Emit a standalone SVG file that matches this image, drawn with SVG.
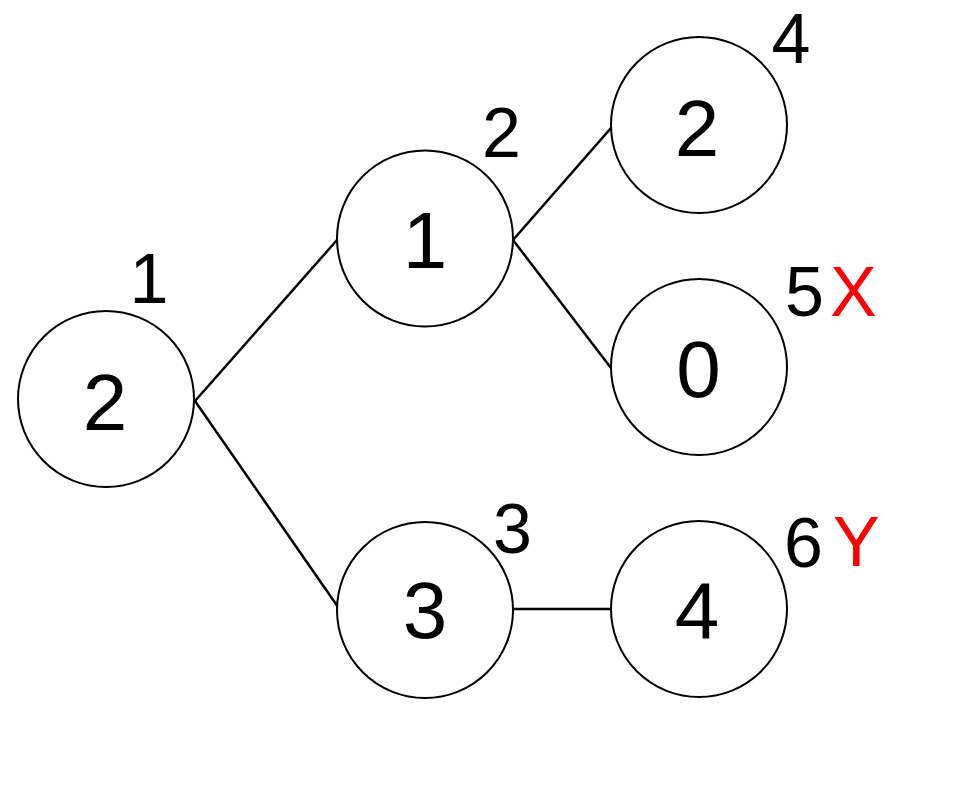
<svg xmlns="http://www.w3.org/2000/svg" width="961" height="801" viewBox="0 0 961 801">
  <style>
    .node { fill: #ffffff; stroke: #000000; stroke-width: 2; }
    .edge { stroke: #000000; stroke-width: 2.5; fill: none; }
    .val { font-family: "Liberation Sans", Arial, sans-serif; font-size: 80px; fill: #000000; text-anchor: middle; }
    .lbl { font-family: "Liberation Sans", Arial, sans-serif; font-size: 70px; fill: #000000; }
    .red { fill: #ff0000; }
  </style>
  <rect x="0" y="0" width="961" height="801" fill="#ffffff"/>
  <g id="connectors">
    <line class="edge" x1="195" y1="401" x2="337" y2="240"/>
    <line class="edge" x1="195" y1="401" x2="338" y2="607"/>
    <line class="edge" x1="513" y1="240" x2="611" y2="128"/>
    <line class="edge" x1="513" y1="240" x2="611" y2="368"/>
    <line class="edge" x1="513" y1="609" x2="611" y2="609"/>
  </g>
  <g id="node1">
    <circle class="node" cx="106" cy="399" r="88"/>
    <text class="val" x="105" y="430">2</text>
    <text class="lbl" x="129.5" y="303">1</text>
  </g>
  <g id="node2">
    <circle class="node" cx="425" cy="238.5" r="88"/>
    <text class="val" x="425" y="268">1</text>
    <text class="lbl" x="482" y="157">2</text>
  </g>
  <g id="node3">
    <circle class="node" cx="425" cy="610" r="88"/>
    <text class="val" x="425" y="638">3</text>
    <text class="lbl" x="493" y="553">3</text>
  </g>
  <g id="node4">
    <circle class="node" cx="699" cy="125" r="88"/>
    <text class="val" x="697" y="156">2</text>
    <text class="lbl" x="771.5" y="63">4</text>
  </g>
  <g id="node5">
    <circle class="node" cx="699" cy="367" r="88"/>
    <text class="val" x="698.5" y="397">0</text>
    <text class="lbl" x="785" y="316">5</text>
    <text class="lbl red" x="830" y="316">X</text>
  </g>
  <g id="node6">
    <circle class="node" cx="699" cy="609" r="88"/>
    <text class="val" x="697" y="638">4</text>
    <text class="lbl" x="784" y="567">6</text>
    <text class="lbl red" x="833" y="566">Y</text>
  </g>
</svg>
